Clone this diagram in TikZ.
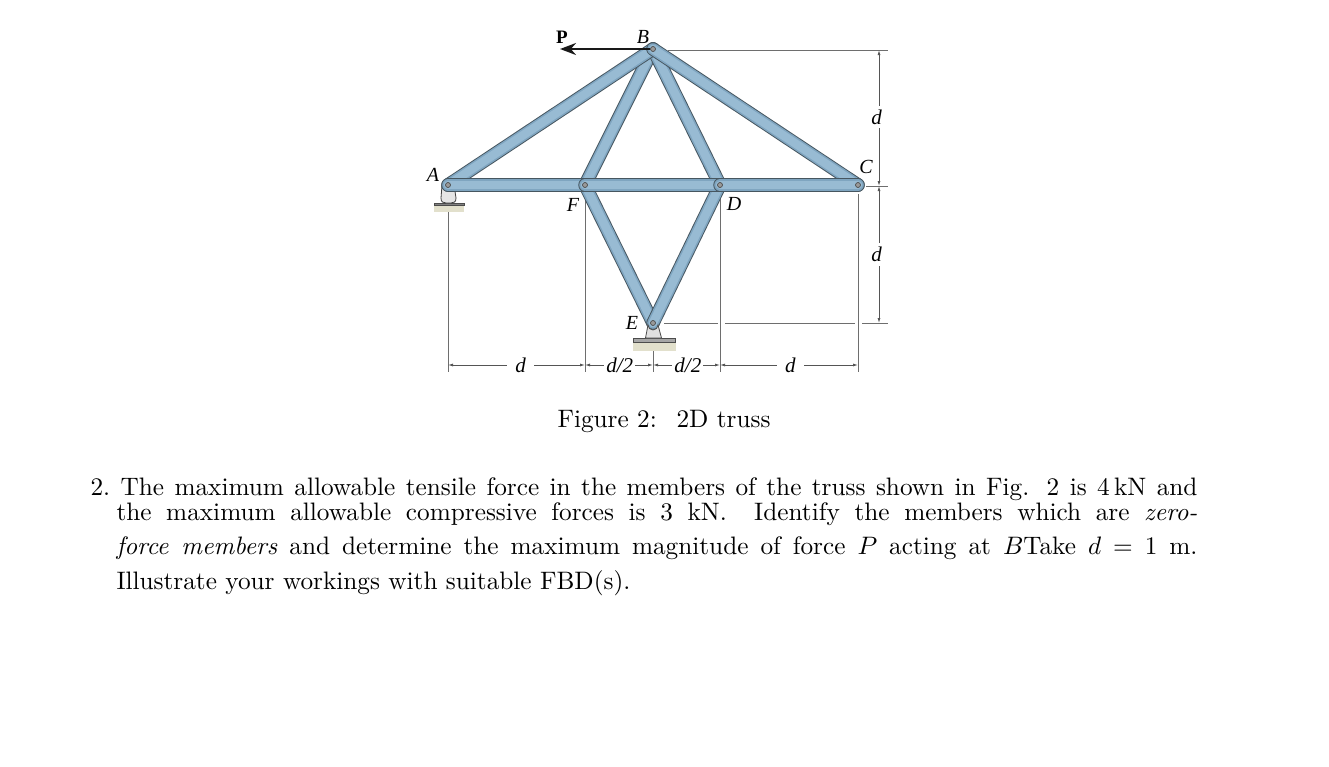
\documentclass[tikz,border=0pt]{standalone}
\usepackage{fontspec}
\newfontfamily\lblfont{Liberation Serif}
\usetikzlibrary{arrows.meta}
\definecolor{edgeC}{HTML}{465660}
\definecolor{midC}{HTML}{7FA5C0}
\definecolor{lightC}{HTML}{98BBD3}
\definecolor{dimC}{HTML}{555555}
\definecolor{groundC}{HTML}{E2E0CC}
\newcommand{\memberlink}[2]{%
  \draw[line width=13.5pt,edgeC,line cap=round] (#1) -- (#2);
  \draw[line width=11.6pt,midC,line cap=round] (#1) -- (#2);
  \draw[line width=8.5pt,lightC,line cap=round] (#1) -- (#2);
}
\newcommand{\bodyline}[2]{\makebox[#1pt][s]{#2}}
\tikzset{
  dimline/.style={draw=dimC,line width=0.8pt},
  dimarrow/.style={dimline,{Latex[length=5pt,width=3pt]}-{Latex[length=5pt,width=3pt]}},
  extline/.style={draw=dimC!85,line width=0.8pt},
  pinnode/.style={circle,draw=black!70,fill=black!40,line width=0.7pt,minimum size=5pt,inner sep=0pt},
  ptlabel/.style={font=\lblfont\itshape\fontsize{20}{20}\selectfont,inner sep=0pt},
  dimlabel/.style={font=\lblfont\itshape\fontsize{21}{21}\selectfont,fill=white,inner sep=2pt},
  bodytext/.style={anchor=base west,inner sep=0pt,scale=2.525},
}
\begin{document}
\begin{tikzpicture}[x=1pt,y=-1pt]
\useasboundingbox (0,0) rectangle (1329,766);
\fill[white] (0,0) rectangle (1329,766);
% joints
\coordinate (A) at (448,185);
\coordinate (F) at (585,185);
\coordinate (D) at (720,185);
\coordinate (C) at (858,185);
\coordinate (B) at (653,49);
\coordinate (E) at (653,323);
% extension lines
\coordinate (xA0) at (448,210); \coordinate (xA1) at (448,372); \coordinate (xAm) at (448,365);
\coordinate (xF0) at (585,194); \coordinate (xF1) at (585,372); \coordinate (xFm) at (585,365);
\coordinate (xD0) at (720,196); \coordinate (xD1) at (720,372); \coordinate (xDm) at (720,365);
\coordinate (xC0) at (858,194); \coordinate (xC1) at (858,372); \coordinate (xCm) at (858,365);
\coordinate (xE0) at (653,345); \coordinate (xE1) at (653,372); \coordinate (xEm) at (653,365);
\draw[extline] (xA0) -- (xA1);
\draw[extline] (xF0) -- (xF1);
\draw[extline] (xD0) -- (xD1);
\draw[extline] (xC0) -- (xC1);
\draw[extline] (xE0) -- (xE1);
\coordinate (yB0) at (668,50); \coordinate (yB1) at (888,50); \coordinate (yBm) at (879,50);
\coordinate (yC0) at (866,186); \coordinate (yC1) at (888,186); \coordinate (yCm) at (879,186);
\coordinate (yE0) at (664,323); \coordinate (yE1) at (718,323);
\coordinate (yE2) at (725,323); \coordinate (yE3) at (855,323);
\coordinate (yE4) at (862,323); \coordinate (yE5) at (888,323); \coordinate (yEm) at (879,323);
\draw[extline] (yB0) -- (yB1);
\draw[extline] (yC0) -- (yC1);
\draw[extline] (yE0) -- (yE1);
\draw[extline] (yE2) -- (yE3);
\draw[extline] (yE4) -- (yE5);
% dimensions
\draw[dimarrow] (yBm) -- (yCm) node[midway,dimlabel,xshift=-2.5pt,yshift=1pt,inner ysep=4pt] (ld1) {d};
\draw[dimarrow] (yCm) -- (yEm) node[midway,dimlabel,xshift=-2.5pt,inner ysep=4pt] (ld2) {d};
\draw[dimarrow] (xAm) -- (xFm) node[pos=0.53,dimlabel,inner xsep=8pt] (ld3) {d};
\draw[dimarrow] (xFm) -- (xEm) node[pos=0.51,dimlabel] (ld4) {d/2};
\draw[dimarrow] (xEm) -- (xDm) node[pos=0.52,dimlabel] (ld5) {d/2};
\draw[dimarrow] (xDm) -- (xCm) node[pos=0.51,dimlabel,inner xsep=8pt] (ld6) {d};
% support E
\fill[groundC] (633,342) rectangle (676,351);
\draw[draw=black!70,fill=black!35,line width=0.8pt] (633,338) rectangle (675,342);
% support A
\fill[groundC] (434,206) rectangle (464,212);
\draw[draw=black!70,fill=black!50,line width=0.6pt] (434,203.5) rectangle (464,205.5);
\draw[draw=black!75,fill=black!10,line width=0.8pt] (442,185) -- (441,198) .. controls (441,202) and (443,203) .. (446,203) -- (451,203) .. controls (454,203) and (456,202) .. (456,198) -- (454,185) -- cycle;
% members
\memberlink{F}{E}
\memberlink{D}{E}
\memberlink{F}{B}
\memberlink{D}{B}
\memberlink{A}{B}
\memberlink{C}{B}
\memberlink{A}{F}
\memberlink{F}{D}
\memberlink{D}{C}
% support E over member tips
\draw[draw=black!70,fill=black!12,line width=0.8pt] (645.5,338) -- (648,325) arc[start angle=180,end angle=0,radius=5] -- (661.5,338) -- cycle;
% pins
\node[pinnode] (pinA) at (A) {};
\node[pinnode] (pinF) at (F) {};
\node[pinnode] (pinD) at (D) {};
\node[pinnode] (pinC) at (C) {};
\node[pinnode] (pinB) at (B) {};
\node[pinnode] (pinE) at (E) {};
% load
\coordinate (Ptip) at (560,49);
\draw[line width=2.4pt,black!90,-{Stealth[length=16pt,width=12pt]}] (pinB) -- (Ptip);
\node[font=\lblfont\bfseries\fontsize{19}{19}\selectfont,inner sep=0pt] (lblP) at (562,37) {P};
% labels
\node[ptlabel] (lblA) at (433,175) {A};
\node[ptlabel] (lblB) at (643,37) {B};
\node[ptlabel] (lblC) at (866,167) {C};
\node[ptlabel] (lblD) at (734,204) {D};
\node[ptlabel] (lblE) at (632,323) {E};
\node[ptlabel] (lblF) at (573,205) {F};
% body text
\node[bodytext] (cap) at (557,427) {Figure 2:\hspace{0.78em}2D truss};
\node[bodytext] (l1) at (90,495) {\bodyline{438.4}{2.\ The maximum allowable tensile force in the members of the truss shown in Fig. 2 is 4\,kN and}};
\node[bodytext] (l2) at (116,520) {\bodyline{428.1}{the maximum allowable compressive forces is 3 kN.\hspace{0.5em} Identify the members which are \textit{zero-}}};
\node[bodytext] (l3) at (116,554) {\bodyline{428.1}{\textit{force members} and determine the maximum magnitude of force $P$ acting at $B$Take $d$ = 1 m.}};
\node[bodytext] (l4) at (116,589) {Illustrate your workings with suitable FBD(s).};
\end{tikzpicture}
\end{document}
